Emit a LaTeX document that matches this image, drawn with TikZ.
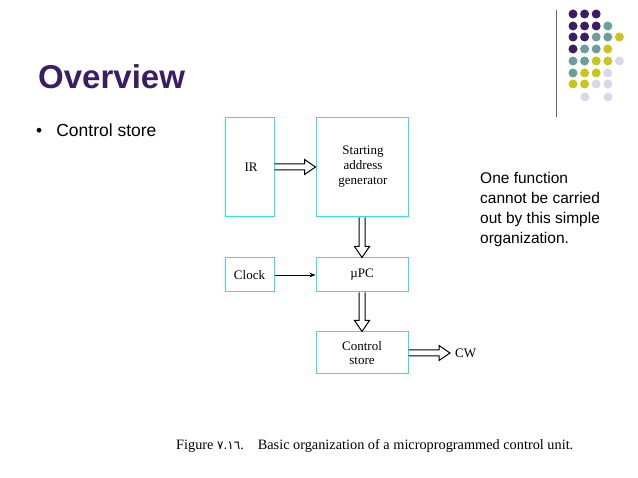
\documentclass[tikz,border=0pt]{standalone}
\usepackage{fontspec}
\setmainfont{Liberation Serif}
\newfontfamily\sans{Liberation Sans}
\newfontfamily\arab{DejaVu Sans}
\usetikzlibrary{arrows.meta}
\definecolor{P}{HTML}{3B1D63}
\definecolor{T}{HTML}{6E9E9C}
\definecolor{Y}{HTML}{C9C51C}
\definecolor{L}{HTML}{D9D8EA}
\definecolor{box}{HTML}{33E0E8}
\begin{document}
\begin{tikzpicture}[x=1pt,y=-1pt,
  blk/.style={draw=box,line width=1pt,inner sep=0pt,font=\fontsize{13}{14}\selectfont,align=center},
  ar/.style={line width=1pt,line join=miter},
  dot/.style={circle,inner sep=0pt,minimum size=9pt}]
\useasboundingbox (0,0) rectangle (638,478);
% decoration
\draw[gray!80!black,line width=0.8pt] (556,10) -- (556,117);
\foreach \row/\y in {{P,P,P}/14,{P,P,P,T}/26,{P,P,T,T,Y}/37,{P,T,T,Y}/49,{T,T,Y,Y,L}/61,{T,Y,Y,L}/73,{Y,Y,L,L}/84}{
  \foreach \c [count=\i] in \row {
    \pgfmathsetmacro\xx{573+11.6*(\i-1)}
    \node[dot,fill=\c] at (\xx,\y) {};
  }}
\node[dot,fill=L] (d1) at (585,97) {};
\node[dot,fill=L] (d2) at (608,97) {};
% title
\node[anchor=west,inner sep=0pt,font=\sans\bfseries\fontsize{33}{38}\selectfont,text=P] (title) at (38,77) {Overview};
\node[anchor=west,inner sep=0pt,font=\sans\fontsize{17.5}{20}\selectfont] (bul) at (36,130) {\textbullet\hspace{14pt}Control store};
% blocks
\node[blk,minimum width=49pt,minimum height=99pt] (ir) at (249.5,167.5) {};
\node[font=\fontsize{13}{14}\selectfont] (irl) at (251,167) {IR};
\node[blk,minimum width=92pt,minimum height=99pt] (sag) at (362,167.5) {};
\node[font=\fontsize{13}{15}\selectfont,align=center] (sagl) at (363,167) {Starting\\address\\generator};
\node[blk,minimum width=49pt,minimum height=34pt] (clk) at (249.5,275) {Clock};
\node[blk,minimum width=92pt,minimum height=34pt] (upc) at (362,275) {\textmu PC};
\node[blk,minimum width=92pt,minimum height=42pt] (cs) at (362,353) {Control\\store};
\node[font=\fontsize{13}{14}\selectfont,inner sep=5pt,anchor=west] (cw) at (450,353) {CW};
\coordinate (a1) at (ir.east |- 0,167);
\coordinate (b1) at (sag.west |- 0,167);
% horizontal hollow arrows
\foreach \s/\e in {a1/b1, cs.east/cw.west}{
  \draw[ar] ([yshift=-3pt]\s) -- ([yshift=-3pt,xshift=-11pt]\e) -- ([yshift=-7.5pt,xshift=-11pt]\e)
    -- (\e) -- ([yshift=7.5pt,xshift=-11pt]\e) -- ([yshift=3pt,xshift=-11pt]\e) -- ([yshift=3pt]\s);
}
% vertical hollow arrows
\foreach \s/\e in {sag.south/upc.north, upc.south/cs.north}{
  \draw[ar] ([xshift=-3pt]\s) -- ([xshift=-3pt,yshift=11pt]\e) -- ([xshift=-7.5pt,yshift=11pt]\e)
    -- (\e) -- ([xshift=7.5pt,yshift=11pt]\e) -- ([xshift=3pt,yshift=11pt]\e) -- ([xshift=3pt]\s);
}
\draw[-{Stealth[length=6pt]},line width=0.6pt] (clk.east) -- (upc.west);
% side text
\node[anchor=north west,inner sep=0pt,font=\sans\fontsize{15.5}{20}\selectfont,align=left] (note) at (480,172) {One function\\cannot be carried\\out by this simple\\organization.};
% caption
\node[anchor=west,inner sep=0pt,font=\fontsize{14.3}{16}\selectfont] (cap) at (176,446) {Figure {\arab\fontsize{12}{14}\selectfont ٧.١٦}.\hspace{14pt}Basic organization of a microprogrammed control unit.};
\end{tikzpicture}
\end{document}
